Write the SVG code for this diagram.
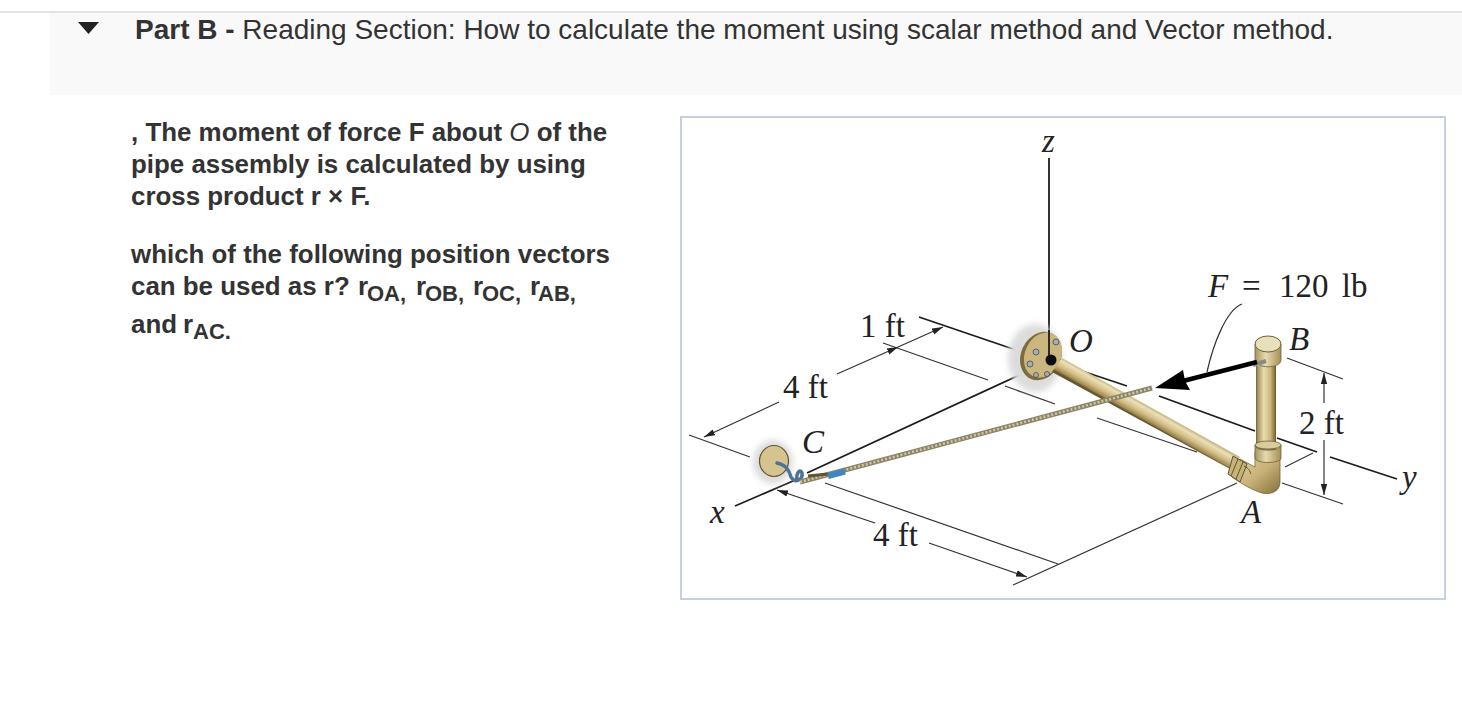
<svg xmlns="http://www.w3.org/2000/svg" width="1462" height="724" viewBox="0 0 1462 724">
<style>
.ui{font-family:"Liberation Sans",Arial,sans-serif;fill:#333}
.h{font-size:28px}
.b{font-size:25.900px;font-weight:700}
.s{font-size:22px;font-weight:700}
.f{font-family:"Liberation Serif","Times New Roman",serif;font-size:33px;fill:#222}
.i{font-style:italic}
.thin{stroke:#333;stroke-width:1.200;fill:none}
.thick{stroke:#1c1c1c;stroke-width:1.800;fill:none}
.dim{stroke:#333;stroke-width:1.200;fill:none}
</style>
<defs>
<marker id="ah" markerWidth="12" markerHeight="8" refX="11" refY="4" orient="auto-start-reverse" markerUnits="userSpaceOnUse"><path d="M0 0.8L11 4L0 7.2z" fill="#222"/></marker>
<linearGradient id="gOA" gradientUnits="userSpaceOnUse" x1="1153" y1="405" x2="1144" y2="421"><stop offset="0" stop-color="#5e5230"/><stop offset=".12" stop-color="#b9a76e"/><stop offset=".35" stop-color="#ebe0b8"/><stop offset=".65" stop-color="#d3bd85"/><stop offset=".9" stop-color="#a08c52"/><stop offset="1" stop-color="#65582f"/></linearGradient>
<linearGradient id="gV" gradientUnits="userSpaceOnUse" x1="1255" y1="0" x2="1277" y2="0"><stop offset="0" stop-color="#4d4427"/><stop offset=".13" stop-color="#a8955d"/><stop offset=".4" stop-color="#e8dcb2"/><stop offset=".7" stop-color="#cdb67d"/><stop offset=".9" stop-color="#85713d"/><stop offset="1" stop-color="#3f3720"/></linearGradient>
<linearGradient id="gE" x1="0" y1="0" x2="1" y2="1"><stop offset="0" stop-color="#e3d6a8"/><stop offset=".55" stop-color="#c9b277"/><stop offset="1" stop-color="#84703c"/></linearGradient>
<linearGradient id="gC" gradientUnits="userSpaceOnUse" x1="1255" y1="0" x2="1282" y2="0"><stop offset="0" stop-color="#a8955d"/><stop offset=".4" stop-color="#e6dab0"/><stop offset="1" stop-color="#a08c52"/></linearGradient>
<filter id="halo" x="-40%" y="-40%" width="180%" height="180%"><feGaussianBlur stdDeviation="3"/></filter>
<filter id="soft" x="-5%" y="-5%" width="110%" height="110%"><feGaussianBlur stdDeviation="0.45"/></filter>
</defs>
<rect width="1462" height="724" fill="#fff"/>
<rect x="50" y="13" width="1412" height="82" fill="#f9f9f9"/>
<rect x="0" y="11" width="1462" height="2" fill="#e3e3e3"/>
<g id="header">
<path d="M78 22H99L88.500 34z" fill="#222"/>
<text class="ui h" x="135" y="39"><tspan font-weight="700">Part B - </tspan>Reading Section: How to calculate the moment using scalar method and Vector method.</text>
</g>
<g id="question">
<text class="ui b" x="131" y="141">, The moment of force F about <tspan class="i" font-weight="400">O</tspan> of the</text>
<text class="ui b" x="131" y="173">pipe assembly is calculated by using</text>
<text class="ui b" x="131" y="205">cross product r × F.</text>
<text class="ui b" x="131" y="263">which of the following position vectors</text>
<text class="ui b" x="131" y="295">can be used as r?</text>
<text class="ui b" x="358" y="295">r</text><text class="ui s" x="367" y="301">OA,</text>
<text class="ui b" x="416" y="295">r</text><text class="ui s" x="425" y="301">OB,</text>
<text class="ui b" x="473" y="295">r</text><text class="ui s" x="482" y="301">OC,</text>
<text class="ui b" x="530" y="295">r</text><text class="ui s" x="538" y="301">AB,</text>
<text class="ui b" x="131" y="333">and</text>
<text class="ui b" x="183" y="333">r</text><text class="ui s" x="193" y="339">AC.</text>
</g>
<rect id="frame" x="681" y="117" width="764" height="482" fill="#fff" stroke="#c5d0de" stroke-width="2"/>
<g id="figure-shapes" filter="url(#soft)">
<g id="connectors">
<path class="thick" d="M1049 158V356"/>
<path class="thick" d="M919 317L1016 350M1085 372L1127 386M1159 396L1255 431M1277 438L1317 452M1330 457L1397 479"/>
<path class="thick" d="M735 506L793 481M807 473L1037 367"/>
<path class="thin" d="M883 343L988 380M1005 386L1055 404M689 435L750 457M825 483L1058 564M1013 585L1237 483M1097 418L1197 452M1287 358L1343 379M1282 483L1343 504"/>
<path class="dim" d="M898 347L943 327" marker-end="url(#ah)"/>
<path class="dim" d="M837 374L898 347" marker-end="url(#ah)"/>
<path class="dim" d="M779 402L704 437" marker-end="url(#ah)"/>
<path class="dim" d="M875 523L777 490" marker-end="url(#ah)"/>
<path class="dim" d="M929 543L1027 577" marker-end="url(#ah)"/>
<path class="dim" d="M1324 403V373" marker-end="url(#ah)"/>
<path class="dim" d="M1324 440V495" marker-end="url(#ah)"/>
<path class="thin" d="M1285 467L1313 453"/>
<path class="thin" d="M1242 304C1226 310 1213 345 1207 372"/>
</g>
<g id="support-O">
<ellipse cx="1035" cy="358" rx="27" ry="34" fill="#dcdcdc" filter="url(#halo)"/>
<ellipse cx="1041" cy="356" rx="20" ry="25" transform="rotate(25 1041 356)" fill="#7d6c3e"/>
<ellipse cx="1043" cy="355" rx="18" ry="23.500" transform="rotate(25 1043 355)" fill="#cbb680"/>
<g fill="#9fb0b8" stroke="#3d3d3d" stroke-width=".7"><circle cx="1056" cy="342" r="3"/><circle cx="1036" cy="352" r="3"/><circle cx="1030" cy="364" r="3"/><circle cx="1036" cy="375" r="2.500"/><circle cx="1047" cy="374" r="2.500"/></g>
<path class="thick" d="M1049 330V356"/>
<circle cx="1051" cy="360" r="5.500" fill="#111"/>
</g>
<g id="pipe-OA">
<path d="M1062 358L1240 457L1230 469L1052 372z" fill="url(#gOA)"/>
<circle cx="1051" cy="360" r="4.500" fill="#111"/>
</g>
<g id="pipe-AB">
<path d="M1256 366H1276V450H1256z" fill="url(#gV)"/>
<path d="M1257 443H1275M1257 446H1275M1257 449H1275" stroke="#6a5c33" stroke-width="1"/>
<path d="M1255 344V360C1255 369 1281 369 1281 360V344z" fill="url(#gC)" stroke="#6f6138" stroke-width=".8"/>
<ellipse cx="1268" cy="344" rx="13" ry="8" fill="#e8e0bd" stroke="#6f6138" stroke-width="1"/>
<path d="M1253 365L1266 361" stroke="#8a8a80" stroke-width="4"/>
<path d="M1240 459L1255 467V452H1280V482C1280 491 1272 495 1262 493C1252 490 1242 484 1232 477z" fill="url(#gE)" stroke="#77683a" stroke-width=".8"/>
<path d="M1255 445C1255 452 1281 452 1281 445V458C1281 464 1255 464 1255 458z" fill="url(#gC)" stroke="#6f6138" stroke-width=".8"/>
<ellipse cx="1268" cy="445" rx="13" ry="4" fill="#d9cb9b" stroke="#6f6138" stroke-width=".8"/>
<path d="M1233 456L1247 464L1240 482L1228 474z" fill="#c9b277" stroke="#5e5330" stroke-width="1"/>
<path d="M1238 459L1231 476M1243 462L1236 479M1244 466C1250 469 1250 472 1251 474" fill="none" stroke="#5e5330" stroke-width="1"/>
</g>
<g id="support-C">
<ellipse cx="773" cy="462" rx="20" ry="22" fill="#dcdcdc" filter="url(#halo)"/>
<ellipse cx="774" cy="461" rx="14.500" ry="15.500" fill="#d6c48f" stroke="#5e5330" stroke-width="1.200"/>
<path d="M777 463C786 465 789 470 791 477C795 484 803 480 802 473C800 468 796 473 797 480" fill="none" stroke="#4d7396" stroke-width="3.500" stroke-linecap="round"/>
</g>
<g id="rope">
<path d="M800 482L1152 388" stroke="#8d8468" stroke-width="5" fill="none"/>
<path d="M800 482L1152 388" stroke="#cfc7a8" stroke-width="2.500" stroke-dasharray="2 2" fill="none"/>
<path d="M808 476L828 474" stroke="#5e5330" stroke-width="3"/>
<path d="M828 476L845 471.500" stroke="#3f86c0" stroke-width="6"/>
</g>
<g id="force-F">
<path d="M1257 362L1183 381" stroke="#000" stroke-width="4.500"/>
<path d="M1155 388L1183 370L1185 381L1190 390z" fill="#000"/>
</g>
</g>
<g id="labels">
<text class="f i" x="1042" y="152">z</text>
<text class="f" x="860" y="337">1 ft</text>
<text class="f" x="783" y="398">4 ft</text>
<text class="f i" x="802" y="453">C</text>
<text class="f i" x="710" y="523">x</text>
<text class="f" x="873" y="546">4 ft</text>
<text class="f i" x="1069" y="352">O</text>
<text class="f" y="297"><tspan class="i" x="1208">F</tspan><tspan x="1242">=</tspan><tspan x="1279" word-spacing="5">120 lb</tspan></text>
<text class="f i" x="1289" y="350">B</text>
<text class="f" x="1299" y="434">2 ft</text>
<text class="f i" x="1402" y="488">y</text>
<text class="f i" x="1241" y="523">A</text>
</g>
</svg>
